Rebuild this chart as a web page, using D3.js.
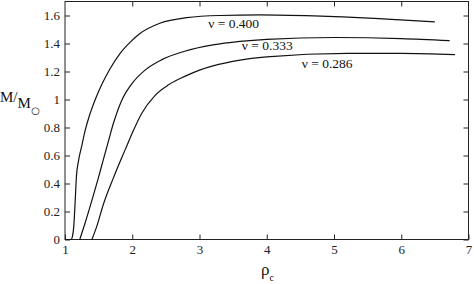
<!DOCTYPE html>
<html>
<head>
<meta charset="utf-8">
<script src="https://cdn.jsdelivr.net/npm/d3@7"></script>
<style>
  body { margin: 0; background: #fff; }
  svg { display: block; }
</style>
</head>
<body>
<script>
const width = 474
const height = 284
const serif = "'Liberation Serif', 'Times New Roman', Times, 'DejaVu Serif', serif"

// curve data: rho_c vs M/Msun
const rho400 = [1.0, 1.09, 1.11, 1.13, 1.15, 1.17, 1.20, 1.25, 1.30, 1.36, 1.45, 1.55, 1.67, 1.82, 1.97, 2.11, 2.41, 2.81, 3.3, 3.9, 4.7, 5.6, 6.5]
const m400   = [0, 0, 0.02, 0.09, 0.26, 0.45, 0.56, 0.67, 0.78, 0.88, 1.00, 1.11, 1.22, 1.33, 1.41, 1.47, 1.545, 1.585, 1.60, 1.604, 1.597, 1.58, 1.555]

const rho333 = [1.22, 1.30, 1.40, 1.49, 1.57, 1.65, 1.72, 1.84, 1.99, 2.19, 2.44, 2.78, 3.2, 3.6, 4.0, 5.0, 6.0, 6.72]
const m333   = [0, 0.12, 0.28, 0.43, 0.57, 0.71, 0.83, 0.99, 1.11, 1.21, 1.285, 1.345, 1.39, 1.415, 1.43, 1.443, 1.435, 1.42]

const rho286 = [1.40, 1.47, 1.57, 1.72, 1.84, 1.92, 2.0, 2.14, 2.34, 2.54, 2.78, 3.0, 3.2, 3.58, 4.0, 5.2, 6.0, 6.8]
const m286   = [0, 0.09, 0.25, 0.44, 0.58, 0.67, 0.76, 0.90, 1.03, 1.105, 1.165, 1.21, 1.24, 1.28, 1.305, 1.33, 1.33, 1.32]

const seriesNames = ['ν = 0.400', 'ν = 0.333', 'ν = 0.286']
const labelRho = [3.13, 3.63, 4.52]
const labelM = [1.514, 1.357, 1.225]

const xTicks = [1, 2, 3, 4, 5, 6, 7]
const yTicks = [0, 0.2, 0.4, 0.6, 0.8, 1, 1.2, 1.4, 1.6]
const yTickLabels = ['0', '0.2', '0.4', '0.6', '0.8', '1', '1.2', '1.4', '1.6']

const margin = {top: 1.5, right: 5.5, bottom: 44.5, left: 65}

const svg = d3.select('body').append('svg')
  .attr('width', width)
  .attr('height', height)
  .style('font-family', serif)

const x = d3.scaleLinear().domain([1, 7]).range([margin.left, width - margin.right])
const y = d3.scaleLinear().domain([0, 1.7]).range([height - margin.bottom, margin.top])

const ink = '#222'

// frame
svg.append('rect')
  .attr('x', x(1)).attr('y', y(1.7))
  .attr('width', x(7) - x(1)).attr('height', y(0) - y(1.7))
  .attr('fill', 'none').attr('stroke', ink).attr('stroke-width', 1)

function styleAxis(g) {
  g.attr('font-family', serif).attr('font-size', 13)
  g.select('.domain').remove()
  g.selectAll('line').attr('stroke', ink)
  g.selectAll('text').attr('fill', ink)
}

svg.append('g')
  .attr('transform', `translate(0,${y(0)})`)
  .call(d3.axisBottom(x).tickValues(xTicks).tickSizeInner(-5).tickSizeOuter(0).tickPadding(5).tickFormat(d3.format('d')))
  .call(styleAxis)

svg.append('g')
  .attr('transform', `translate(0,${y(1.7)})`)
  .call(d3.axisTop(x).tickValues(xTicks.slice(1, -1)).tickSizeInner(-5).tickSizeOuter(0).tickFormat(''))
  .call(styleAxis)

svg.append('g')
  .attr('transform', `translate(${x(1)},0)`)
  .call(d3.axisLeft(y).tickValues(yTicks).tickSizeInner(-5).tickSizeOuter(0).tickPadding(5)
    .tickFormat((d, i) => yTickLabels[i]))
  .call(styleAxis)

svg.append('g')
  .attr('transform', `translate(${x(7)},0)`)
  .call(d3.axisRight(y).tickValues(yTicks).tickSizeInner(-5).tickSizeOuter(0).tickFormat(''))
  .call(styleAxis)

// curves
const series = [
  d3.zip(rho400, m400),
  d3.zip(rho333, m333),
  d3.zip(rho286, m286)
]

const line = d3.line()
  .x(d => x(d[0]))
  .y(d => y(d[1]))
  .curve(d3.curveMonotoneX)

svg.selectAll('path.curve')
  .data(series)
  .join('path')
  .attr('class', 'curve')
  .attr('d', line)
  .attr('fill', 'none')
  .attr('stroke', '#111')
  .attr('stroke-width', 1.2)

svg.selectAll('text.nu')
  .data(seriesNames)
  .join('text')
  .attr('class', 'nu')
  .attr('x', (d, i) => x(labelRho[i]))
  .attr('y', (d, i) => y(labelM[i]))
  .attr('fill', '#111')
  .attr('font-size', 13.5)
  .text(d => d)

// axis titles
const yTitle = svg.append('text')
  .attr('x', 0).attr('y', 102)
  .attr('fill', '#111')
  .attr('font-size', 15)
yTitle.append('tspan').text('M/')
yTitle.append('tspan').attr('dy', 6).text('M')
yTitle.append('tspan').attr('dy', 6).attr('dx', 0.5)
  .attr('font-size', 10).attr('font-family', "'DejaVu Sans', sans-serif").text('○')

const xTitle = svg.append('text')
  .attr('x', 261).attr('y', 275)
  .attr('fill', '#111')
  .attr('font-size', 17)
xTitle.append('tspan').text('ρ')
xTitle.append('tspan').attr('dy', 6).attr('font-size', 10).text('c')
</script>
</body>
</html>
